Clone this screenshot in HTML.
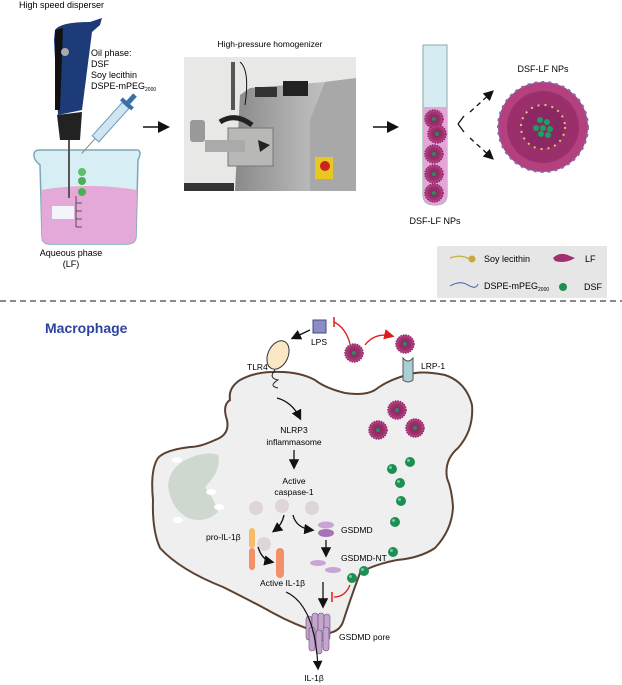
<!DOCTYPE html>
<html><head><style>
body{margin:0;background:#fff;}
svg{display:block;font-family:"Liberation Sans",sans-serif;}
</style></head><body>
<svg width="622" height="685" viewBox="0 0 622 685" xmlns="http://www.w3.org/2000/svg">
<defs>
<marker id="ah" markerWidth="8" markerHeight="8" refX="6" refY="4" orient="auto"><path d="M0,0 L8,4 L0,8 z" fill="#111"/></marker>
<marker id="ahr" markerWidth="8" markerHeight="8" refX="6" refY="4" orient="auto"><path d="M0,0 L8,4 L0,8 z" fill="#e01b1b"/></marker>
<radialGradient id="np" cx="50%" cy="50%" r="50%"><stop offset="0" stop-color="#7a2a5c"/><stop offset="0.7" stop-color="#a0306e"/><stop offset="1" stop-color="#c64a8e"/></radialGradient>
<linearGradient id="met" x1="0" x2="1"><stop offset="0" stop-color="#8a8a8a"/><stop offset="0.5" stop-color="#b0b0b0"/><stop offset="1" stop-color="#d0d0d0"/></linearGradient>
<g id="snp"><circle r="9" fill="url(#np)" stroke="#8a2a68" stroke-width="1.5" stroke-dasharray="1.5 1"/><circle r="2" fill="#2a8a5a"/></g>
<g id="dsf"><circle r="5" fill="#1d8f55"/><circle cx="-1.5" cy="-1.5" r="1.5" fill="#6fd19a"/></g>
</defs>

<!-- TOP -->
<text x="19" y="8" font-size="9">High speed disperser</text>
<path d="M34,156 Q33,150 40,150 L138,150 Q142,152 138,160 L136,236 Q136,244 126,244 L50,244 Q42,244 42,236 L40,165 Q34,160 34,156z" fill="#d6eef4" stroke="#7aa9b5" stroke-width="1.5"/>
<path d="M41,190 Q88,182 137,190 L136,236 Q136,244 126,244 L50,244 Q42,244 42,236z" fill="#e4a9d8"/>
<rect x="52" y="206" width="22" height="13" fill="#f2f6fa"/>
<path d="M76,196 L76,227 M76,203 L82,203 M76,211 L82,211 M76,219 L82,219 M76,227 L82,227" stroke="#333" stroke-width="0.8"/>
<circle cx="82" cy="172" r="4" fill="#5fbf6a"/><circle cx="82" cy="181" r="4" fill="#4aaf55"/><circle cx="82" cy="192" r="4" fill="#4aaf55"/>
<line x1="69" y1="140" x2="69" y2="198" stroke="#555" stroke-width="2"/>
<path d="M55,30 Q60,22 90,22 L102,18 L100,25 L92,32 L82,110 L58,115 L54,40z" fill="#1d3b78"/>
<path d="M55,30 L63,28 L60,110 L55,110z" fill="#111"/>
<circle cx="65" cy="52" r="4" fill="#aaa"/>
<path d="M57,115 L82,112 L80,140 L60,140z" fill="#222"/>
<g transform="rotate(-48 110 125)"><rect x="90" y="119" width="45" height="9" fill="#cfe6f2" stroke="#6a9ab8"/><rect x="135" y="116" width="4" height="15" fill="#3a6fa8"/><rect x="139" y="121" width="10" height="5" fill="#3a6fa8"/><line x1="90" y1="123" x2="70" y2="123" stroke="#888"/></g>
<text x="91" y="56" font-size="9">Oil phase:</text>
<text x="91" y="67" font-size="9">DSF</text>
<text x="91" y="78" font-size="9">Soy lecithin</text>
<text x="91" y="89" font-size="9">DSPE-mPEG<tspan font-size="5" dy="2">2000</tspan></text>
<text x="71" y="256" font-size="9" text-anchor="middle">Aqueous phase</text>
<text x="71" y="267" font-size="9" text-anchor="middle">(LF)</text>
<line x1="143" y1="127" x2="167" y2="127" stroke="#111" stroke-width="1.5" marker-end="url(#ah)"/>
<!-- homogenizer photo -->
<text x="270" y="47" font-size="8.5" text-anchor="middle">High-pressure homogenizer</text>
<rect x="184" y="57" width="172" height="134" fill="#e8e8e6"/>
<path d="M240,95 L250,88 L325,82 L356,78 L356,191 L235,191z" fill="url(#met)"/>
<path d="M325,82 L356,78 L356,191 L310,191 L310,120z" fill="#a8a8a8"/>
<rect x="255" y="87" width="22" height="10" fill="#333"/><rect x="283" y="81" width="25" height="15" fill="#222"/>
<rect x="228" y="128" width="45" height="38" fill="#b8b8b6" stroke="#777"/>
<rect x="190" y="120" width="15" height="22" rx="3" fill="#999"/>
<rect x="205" y="140" width="40" height="12" fill="#aaa"/>
<path d="M220,122 Q235,112 252,125" stroke="#222" stroke-width="5" fill="none"/>
<line x1="233" y1="62" x2="233" y2="110" stroke="#555" stroke-width="4"/>
<path d="M240,62 Q250,70 245,105" stroke="#111" fill="none"/>
<path d="M258,140 L270,145 L260,152z" fill="#222"/>
<rect x="315" y="157" width="18" height="22" fill="#e8c820"/><circle cx="325" cy="166" r="5" fill="#c22"/>
<rect x="184" y="183" width="50" height="8" fill="#333"/>
<line x1="373" y1="127" x2="396" y2="127" stroke="#111" stroke-width="1.5" marker-end="url(#ah)"/>
<!-- tube -->
<path d="M423,45 L447,45 L447,195 Q447,205 435,205 Q423,205 423,195z" fill="#d4ecf2" stroke="#8aa" stroke-width="1"/>
<path d="M423,107 L447,107 L447,195 Q447,205 435,205 Q423,205 423,195z" fill="#e2a7d6"/>
<use href="#snp" x="434" y="119"/><use href="#snp" x="437" y="134"/><use href="#snp" x="434" y="154"/><use href="#snp" x="434" y="174"/><use href="#snp" x="434" y="193"/>
<text x="435" y="224" font-size="9" text-anchor="middle">DSF-LF NPs</text>
<path d="M458,124 L464,116 M458,124 L464,132" stroke="#111" stroke-width="1.3" fill="none"/>
<line x1="470" y1="112" x2="492" y2="92" stroke="#111" stroke-width="1.3" stroke-dasharray="5 4" marker-end="url(#ah)"/>
<line x1="470" y1="138" x2="492" y2="158" stroke="#111" stroke-width="1.3" stroke-dasharray="5 4" marker-end="url(#ah)"/>
<text x="543" y="72" font-size="9" text-anchor="middle">DSF-LF NPs</text>
<circle cx="543" cy="127" r="45" fill="#b5407f" stroke="#7a6fb0" stroke-width="2" stroke-dasharray="3 4"/>
<circle cx="543" cy="127" r="36" fill="#9a2f6c"/>
<circle cx="543" cy="127" r="22" fill="#8b2863" stroke="#d9c86a" stroke-dasharray="2 5" stroke-width="2"/>
<g fill="#1d9f60"><circle cx="540" cy="120" r="3"/><circle cx="547" cy="122" r="3"/><circle cx="543" cy="128" r="3"/><circle cx="550" cy="129" r="3"/><circle cx="536" cy="128" r="3"/><circle cx="541" cy="134" r="3"/><circle cx="548" cy="135" r="3"/></g>
<!-- legend -->
<rect x="437" y="246" width="170" height="52" fill="#e6e6e6"/>
<path d="M450,258 Q460,254 470,259" stroke="#c9b84a" stroke-width="1.5" fill="none"/><circle cx="472" cy="259" r="3.5" fill="#c9a93a"/>
<text x="484" y="262" font-size="9">Soy lecithin</text>
<path d="M553,258 Q560,251 570,256 L575,258 Q565,264 555,261z" fill="#a0306e"/>
<text x="585" y="262" font-size="9">LF</text>
<path d="M450,286 Q460,280 468,285 T478,284" stroke="#3a5ea8" stroke-width="1" fill="none"/>
<text x="484" y="289" font-size="9">DSPE-mPEG<tspan font-size="5" dy="2">2000</tspan></text>
<circle cx="563" cy="287" r="4" fill="#1d8f55"/>
<text x="584" y="290" font-size="9">DSF</text>

<line x1="0" y1="301" x2="622" y2="301" stroke="#444" stroke-width="1.2" stroke-dasharray="6 4"/>

<!-- MACROPHAGE -->
<text x="45" y="333" font-size="14" font-weight="bold" fill="#2c44a0">Macrophage</text>
<path d="M273,372 Q255,372 240,380 Q228,388 230,400 Q222,405 227,420 Q230,435 215,440 Q200,447 190,447 Q165,450 158,458 Q150,470 153,500 Q152,530 160,548 Q180,570 223,587 Q255,603 273,613 Q295,625 320,633 Q338,635 343,622 Q350,600 360,573 Q372,565 397,560 Q420,558 435,548 Q452,530 453,507 Q452,490 447,478 Q444,460 458,448 Q474,430 472,405 Q466,382 445,375 Q420,370 407,375 Q388,380 375,390 Q365,396 345,393 Q325,388 315,380 Q298,371 273,372z" fill="#efefef" stroke="#5a4130" stroke-width="2"/>
<path d="M200,456 Q212,450 220,455 L217,488 L216,515 Q200,523 182,515 Q167,500 168,482 Q172,462 200,456z" fill="none"/>
<path d="M198,455 Q212,452 218,455 Q222,470 205,487 Q215,500 218,512 Q205,524 188,518 Q170,508 168,485 Q170,463 198,455z" fill="#cfd8cf"/>
<ellipse cx="177" cy="460" rx="5" ry="3" fill="#fff"/><ellipse cx="211" cy="492" rx="5" ry="3" fill="#fff"/><ellipse cx="219" cy="507" rx="5" ry="3" fill="#fff"/><ellipse cx="178" cy="520" rx="5" ry="3" fill="#fff"/>
<!-- LPS -->
<rect x="313" y="320" width="13" height="13" fill="#8a8cc8" stroke="#4a4a7a"/>
<text x="319" y="345" font-size="8.5" text-anchor="middle">LPS</text>
<line x1="310" y1="330" x2="293" y2="338" stroke="#111" stroke-width="1.3" marker-end="url(#ah)"/>
<path d="M350,344 Q346,328 334,322" stroke="#e01b1b" stroke-width="1.3" fill="none"/><line x1="334" y1="317" x2="334" y2="327" stroke="#e01b1b" stroke-width="1.5"/>
<path d="M365,345 Q375,332 392,336" stroke="#e01b1b" stroke-width="1.3" fill="none" marker-end="url(#ahr)"/>
<use href="#snp" x="354" y="353"/><use href="#snp" x="405" y="344"/>
<!-- TLR4 -->
<text x="247" y="370" font-size="8.5">TLR4</text>
<ellipse cx="278" cy="355" rx="10" ry="15" transform="rotate(25 278 355)" fill="#fbe6c6" stroke="#333"/>
<path d="M275,370 Q268,378 278,380 Q268,386 278,388" stroke="#222" fill="none"/>
<!-- LRP-1 -->
<path d="M403,358 L403,380 Q408,384 413,380 L413,358 Q408,364 403,358z" fill="#a9d0d4" stroke="#555"/>
<text x="421" y="369" font-size="8.5">LRP-1</text>
<use href="#snp" x="397" y="410"/><use href="#snp" x="378" y="430"/><use href="#snp" x="415" y="428"/>
<use href="#dsf" x="410" y="462"/><use href="#dsf" x="392" y="469"/><use href="#dsf" x="400" y="483"/><use href="#dsf" x="401" y="501"/><use href="#dsf" x="395" y="522"/><use href="#dsf" x="393" y="552"/><use href="#dsf" x="364" y="571"/><use href="#dsf" x="352" y="578"/>
<!-- pathway -->
<path d="M277,398 Q292,402 300,418" stroke="#111" stroke-width="1.3" fill="none" marker-end="url(#ah)"/>
<text x="294" y="433" font-size="8.5" text-anchor="middle">NLRP3</text>
<text x="294" y="445" font-size="8.5" text-anchor="middle">inflammasome</text>
<line x1="294" y1="450" x2="294" y2="467" stroke="#111" stroke-width="1.3" marker-end="url(#ah)"/>
<text x="294" y="484" font-size="8.5" text-anchor="middle">Active</text>
<text x="294" y="495" font-size="8.5" text-anchor="middle">caspase-1</text>
<g fill="#ddd5d8"><circle cx="256" cy="508" r="7"/><circle cx="282" cy="506" r="7"/><circle cx="312" cy="508" r="7"/><circle cx="264" cy="544" r="7"/></g>
<path d="M284,515 Q282,525 274,531" stroke="#111" stroke-width="1.3" fill="none" marker-end="url(#ah)"/>
<path d="M293,515 Q296,528 312,530" stroke="#111" stroke-width="1.3" fill="none" marker-end="url(#ah)"/>
<rect x="249" y="528" width="6" height="20" rx="3" fill="#f6bb6a"/><rect x="249" y="548" width="6" height="22" rx="3" fill="#f3906a"/>
<rect x="276" y="548" width="8" height="30" rx="4" fill="#f3906a"/>
<path d="M258,547 Q262,560 272,562" stroke="#111" stroke-width="1.3" fill="none" marker-end="url(#ah)"/>
<text x="206" y="540" font-size="8.5">pro-IL-1β</text>
<text x="260" y="586" font-size="8.5">Active IL-1β</text>
<ellipse cx="326" cy="525" rx="8" ry="3.5" fill="#c9a4d4"/><ellipse cx="326" cy="533" rx="8" ry="4" fill="#a872b8"/>
<text x="341" y="533" font-size="8.5">GSDMD</text>
<line x1="326" y1="540" x2="326" y2="555" stroke="#111" stroke-width="1.3" marker-end="url(#ah)"/>
<ellipse cx="318" cy="563" rx="8" ry="3" fill="#c9a4d4"/><ellipse cx="333" cy="570" rx="8" ry="3" fill="#c9a4d4"/>
<text x="341" y="561" font-size="8.5">GSDMD-NT</text>
<line x1="323" y1="582" x2="323" y2="606" stroke="#111" stroke-width="1.3" marker-end="url(#ah)"/>
<path d="M350,585 Q345,597 334,597" stroke="#e01b1b" stroke-width="1.3" fill="none"/><line x1="332" y1="592" x2="332" y2="602" stroke="#e01b1b" stroke-width="1.5"/>
<g fill="#c3a6cc" stroke="#6a4a78" stroke-width="0.6"><rect x="306" y="616" width="6" height="24" rx="3"/><rect x="312" y="613" width="6" height="28" rx="3"/><rect x="318" y="613" width="6" height="28" rx="3"/><rect x="324" y="614" width="6" height="26" rx="3"/><rect x="309" y="627" width="6" height="24" rx="3"/><rect x="316" y="630" width="6" height="24" rx="3"/><rect x="323" y="627" width="6" height="24" rx="3"/></g>
<path d="M286,592 Q315,605 318,668" stroke="#111" stroke-width="1.2" fill="none" marker-end="url(#ah)"/>
<text x="339" y="640" font-size="8.5">GSDMD pore</text>
<text x="314" y="681" font-size="8.5" text-anchor="middle">IL-1β</text>
</svg>
</body></html>
